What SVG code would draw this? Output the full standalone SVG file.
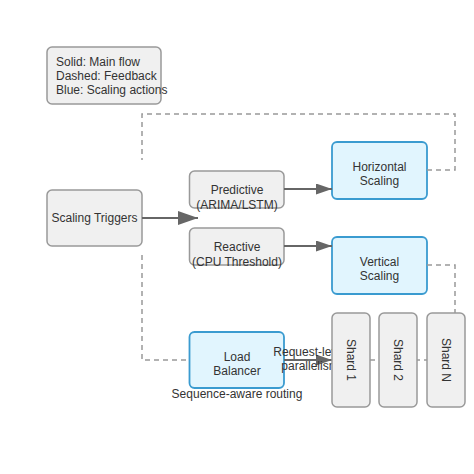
<svg xmlns="http://www.w3.org/2000/svg" width="474" height="474" viewBox="0 0 474 474">
<defs>
<style>
.g{fill:#f0f0f0;stroke:#999;stroke-width:1.5}
.b{fill:#e1f5fe;stroke:#3a9bd0;stroke-width:1.8}
.t{font-family:"Liberation Sans",Arial,sans-serif;font-size:12px;fill:#333;text-anchor:middle}
.l{font-family:"Liberation Sans",Arial,sans-serif;font-size:12px;fill:#333}
.s{fill:none;stroke:#666;stroke-width:1.8}
.d{fill:none;stroke:#999;stroke-width:1.5;stroke-dasharray:5,4}
</style>
<marker id="a" viewBox="0 0 10 10" refX="10" refY="5" markerWidth="8" markerHeight="8" markerUnits="userSpaceOnUse" orient="auto">
<path d="M0,0L10,5L0,10z" fill="#666"/>
</marker>
<marker id="ab" viewBox="0 0 10 10" refX="10" refY="5" markerWidth="20" markerHeight="14" markerUnits="userSpaceOnUse" orient="auto" preserveAspectRatio="none">
<path d="M0,0L10,5L0,10z" fill="#666"/>
</marker>
<marker id="am" viewBox="0 0 10 10" refX="10" refY="5" markerWidth="16" markerHeight="11" markerUnits="userSpaceOnUse" orient="auto" preserveAspectRatio="none">
<path d="M0,0L10,5L0,10z" fill="#666"/>
</marker>
</defs>
<rect width="474" height="474" fill="#fff"/>
<g id="connectors-back">
<path class="d" d="M142,255V360H427"/>
</g>
<g id="legend">
<rect class="g" x="47" y="47" width="114" height="57" rx="5"/>
<text class="l" x="56" y="66">Solid: Main flow</text>
<text class="l" x="56" y="80">Dashed: Feedback</text>
<text class="l" x="56" y="94">Blue: Scaling actions</text>
</g>
<g id="scaling-triggers">
<rect class="g" x="47" y="190" width="95" height="56" rx="5"/>
<text class="t" x="94.5" y="222">Scaling Triggers</text>
</g>
<g id="predictive">
<rect class="g" x="189.5" y="171" width="94.5" height="37" rx="5"/>
<text class="t" x="237" y="194">Predictive</text>
<text class="t" x="237" y="209">(ARIMA/LSTM)</text>
</g>
<g id="reactive">
<rect class="g" x="189.5" y="228" width="94.5" height="37" rx="5"/>
<text class="t" x="237" y="251">Reactive</text>
<text class="t" x="237" y="266">(CPU Threshold)</text>
</g>
<g id="horizontal-scaling">
<rect class="b" x="332" y="142" width="95" height="57" rx="5"/>
<text class="t" x="379.5" y="171">Horizontal</text>
<text class="t" x="379.5" y="185">Scaling</text>
</g>
<g id="vertical-scaling">
<rect class="b" x="332" y="237" width="95" height="57" rx="5"/>
<text class="t" x="379.5" y="266">Vertical</text>
<text class="t" x="379.5" y="280">Scaling</text>
</g>
<g id="load-balancer">
<rect class="b" x="189.5" y="332" width="94.5" height="56" rx="5"/>
<text class="t" x="237" y="361">Load</text>
<text class="t" x="237" y="375">Balancer</text>
<text class="t" x="237" y="398">Sequence-aware routing</text>
</g>
<g id="connectors">
<path class="s" d="M142,218H198" marker-end="url(#ab)"/>
<path class="s" d="M284,189H332" marker-end="url(#am)"/>
<path class="s" d="M284,246H332" marker-end="url(#am)"/>
<path class="s" d="M284,360H332" marker-end="url(#am)"/>
<path class="d" d="M427,170H455V114H142V160"/>
<path class="d" d="M427,265H455V313"/>
<text class="t" x="310" y="356">Request-level</text>
<text class="t" x="310" y="370">parallelism</text>
</g>
<g id="shard-1">
<rect class="g" x="332" y="313" width="38" height="94" rx="5"/>
<text class="t" transform="translate(351,360) rotate(90)" y="4">Shard 1</text>
</g>
<g id="shard-2">
<rect class="g" x="379" y="313" width="38" height="94" rx="5"/>
<text class="t" transform="translate(398,360) rotate(90)" y="4">Shard 2</text>
</g>
<g id="shard-n">
<rect class="g" x="427" y="313" width="38" height="94" rx="5"/>
<text class="t" transform="translate(446,360) rotate(90)" y="4">Shard N</text>
</g>
</svg>
